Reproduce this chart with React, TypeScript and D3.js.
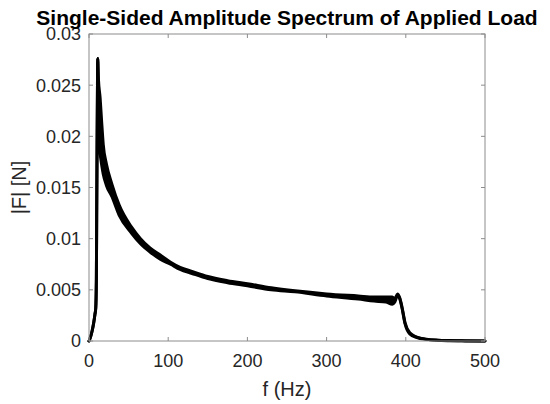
import { useEffect, useRef } from "react";
import * as d3 from "d3";

// spectrum: upper and lower edge of the trace
const freq = [
  0, 2, 4, 6, 7.5, 8.5, 9.3, 9.7, 10.2, 10.7, 11, 12, 14, 16, 18, 22, 29, 38,
  54, 65, 77, 90, 103, 115, 130, 150, 175, 200, 230, 260, 300, 340, 360, 375,
  383, 386, 389.5, 392, 395, 399, 405, 414, 426, 440, 455, 475, 500,
];
const upper = [
  0, 0.0004, 0.001, 0.0018, 0.0026, 0.0032, 0.006, 0.012, 0.019, 0.025,
  0.0276, 0.0255, 0.0238, 0.0214, 0.0192, 0.0173, 0.0153, 0.0133, 0.0111,
  0.01, 0.0091, 0.0084, 0.0077, 0.0072, 0.0068, 0.0063, 0.0059, 0.0056,
  0.0052, 0.0049, 0.0046, 0.0044, 0.0043, 0.0043, 0.0043, 0.0041, 0.0046,
  0.0043, 0.0034, 0.0018, 0.0008, 0.00038, 0.00018, 0.00008, 0.00004, 0.00002,
  0.00001,
];
const lower = [
  0, 0.0004, 0.001, 0.0018, 0.0026, 0.0032, 0.006, 0.012, 0.019, 0.025,
  0.0276, 0.0195, 0.0183, 0.0172, 0.0163, 0.0152, 0.0141, 0.0123, 0.0105,
  0.0095, 0.0087, 0.008, 0.0075, 0.007, 0.0066, 0.0061, 0.0057, 0.0054,
  0.005, 0.0048, 0.0044, 0.0041, 0.0039, 0.0038, 0.0036, 0.0038, 0.0044,
  0.0042, 0.0033, 0.0017, 0.0007, 0.00034, 0.00016, 0.00007, 0.00003, 0.00001,
  0,
];

const xTicks = [0, 100, 200, 300, 400, 500];
const yTicks = [0, 0.005, 0.01, 0.015, 0.02, 0.025, 0.03];

const title = "Single-Sided Amplitude Spectrum of Applied Load";
const xLabel = "f (Hz)";
const yLabel = "|F| [N]";

const W = 550;
const H = 404;
const FONT = "'Liberation Sans', Arial, Helvetica, sans-serif";

export default function App() {
  const ref = useRef<SVGSVGElement | null>(null);

  useEffect(() => {
    document.body.style.margin = "0";
    const svg = d3.select(ref.current);
    svg.selectAll("*").remove();

    const margin = { top: 34, right: 65, bottom: 63, left: 89 };
    const innerW = W - margin.left - margin.right;
    const innerH = H - margin.top - margin.bottom;

    const x = d3.scaleLinear().domain([0, 500]).range([0, innerW]);
    const y = d3.scaleLinear().domain([0, 0.03]).range([innerH, 0]);

    svg.attr("width", W).attr("height", H).attr("viewBox", `0 0 ${W} ${H}`);
    svg.append("rect").attr("width", W).attr("height", H).attr("fill", "#fff");

    const g = svg
      .append("g")
      .attr("transform", `translate(${margin.left},${margin.top})`);

    const idx = d3.range(freq.length);

    // trace: filled band between envelopes, stroked on both edges
    const band = d3
      .area<number>()
      .x((i) => x(freq[i]))
      .y0((i) => y(lower[i]))
      .y1((i) => y(upper[i]))
      .curve(d3.curveMonotoneX);
    g.append("path").datum(idx).attr("fill", "#000").attr("d", band);

    [upper, lower].forEach((vals) => {
      const line = d3
        .line<number>()
        .x((i) => x(freq[i]))
        .y((i) => y(vals[i]))
        .curve(d3.curveMonotoneX);
      g.append("path")
        .datum(idx)
        .attr("fill", "none")
        .attr("stroke", "#000")
        .attr("stroke-width", 3)
        .attr("stroke-linejoin", "round")
        .attr("stroke-linecap", "round")
        .attr("d", line);
    });

    // box + inward ticks (matlab style)
    const axisColor = "#8c8c8c";
    const tl = 4;
    g.append("rect")
      .attr("width", innerW)
      .attr("height", innerH)
      .attr("fill", "none")
      .attr("stroke", axisColor)
      .attr("stroke-width", 1);

    xTicks.forEach((t) => {
      g.append("line")
        .attr("x1", x(t)).attr("x2", x(t))
        .attr("y1", innerH).attr("y2", innerH - tl)
        .attr("stroke", axisColor);
      g.append("line")
        .attr("x1", x(t)).attr("x2", x(t))
        .attr("y1", 0).attr("y2", tl)
        .attr("stroke", axisColor);
      g.append("text")
        .attr("x", x(t))
        .attr("y", innerH + 26)
        .attr("text-anchor", "middle")
        .attr("font-family", FONT)
        .attr("font-size", 18)
        .attr("fill", "#262626")
        .text(String(t));
    });

    yTicks.forEach((t) => {
      g.append("line")
        .attr("x1", 0).attr("x2", tl)
        .attr("y1", y(t)).attr("y2", y(t))
        .attr("stroke", axisColor);
      g.append("line")
        .attr("x1", innerW).attr("x2", innerW - tl)
        .attr("y1", y(t)).attr("y2", y(t))
        .attr("stroke", axisColor);
      g.append("text")
        .attr("x", -8)
        .attr("y", y(t))
        .attr("dy", "0.36em")
        .attr("text-anchor", "end")
        .attr("font-family", FONT)
        .attr("font-size", 18)
        .attr("fill", "#262626")
        .text(t === 0 ? "0" : d3.format("~g")(t));
    });

    g.append("text")
      .attr("x", innerW / 2)
      .attr("y", -9)
      .attr("text-anchor", "middle")
      .attr("font-family", FONT)
      .attr("font-size", 21)
      .attr("font-weight", "bold")
      .attr("fill", "#000")
      .text(title);

    g.append("text")
      .attr("x", innerW / 2)
      .attr("y", innerH + 55)
      .attr("text-anchor", "middle")
      .attr("font-family", FONT)
      .attr("font-size", 20)
      .attr("fill", "#262626")
      .text(xLabel);

    g.append("text")
      .attr("transform", "rotate(-90)")
      .attr("x", -innerH / 2)
      .attr("y", -63)
      .attr("text-anchor", "middle")
      .attr("font-family", FONT)
      .attr("font-size", 20)
      .attr("fill", "#262626")
      .text(yLabel);
  }, []);

  return <svg ref={ref} style={{ display: "block" }} />;
}
